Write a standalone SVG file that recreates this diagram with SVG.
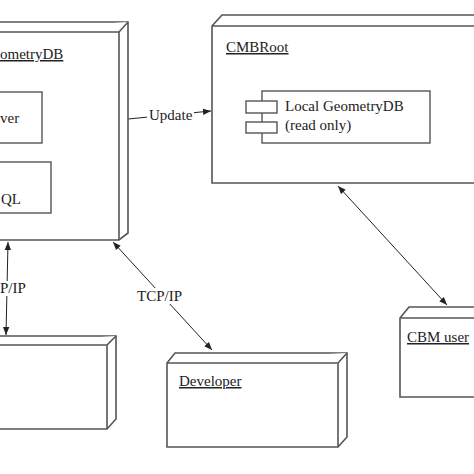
<svg xmlns="http://www.w3.org/2000/svg" width="474" height="474" viewBox="0 0 474 474">
<style>
.node{fill:#fff;stroke:#555;stroke-width:1.6;stroke-linejoin:miter}
.box{fill:#fff;stroke:#555;stroke-width:1.4}
.t{font-family:"Liberation Serif","Times New Roman",serif;font-size:15px;fill:#222}
.u{text-decoration:underline}
.c{fill:none;stroke:#222;stroke-width:1;marker-start:url(#a);marker-end:url(#a)}
.c1{fill:none;stroke:#222;stroke-width:1}
.lb{fill:#fff;stroke:none}
</style>
<defs>
<marker id="a" viewBox="0 0 10 10" refX="10" refY="5" markerWidth="8" markerHeight="8" markerUnits="userSpaceOnUse" orient="auto-start-reverse">
<path d="M0,1 L10,5 L0,9 Z" fill="#222"/>
</marker>
<marker id="e" viewBox="0 0 10 10" refX="10" refY="5" markerWidth="8" markerHeight="8" markerUnits="userSpaceOnUse" orient="auto">
<path d="M0,1 L10,5 L0,9 Z" fill="#222"/>
</marker>
</defs>
<rect width="474" height="474" fill="#fff"/>

<g id="connectors">
<line class="c1" x1="128" y1="119" x2="211" y2="111" marker-end="url(#e)"/>
<rect class="lb" x="147" y="108" width="47" height="16"/>
<text class="t" x="149" y="120">Update</text>
<line class="c" x1="8" y1="242" x2="6" y2="335"/>
<rect class="lb" x="0" y="281" width="31" height="15"/>
<text class="t" x="0" y="293">P/IP</text>
<line class="c" x1="113" y1="242" x2="212" y2="350"/>
<rect class="lb" x="135" y="288" width="52" height="16"/>
<text class="t" x="137" y="301">TCP/IP</text>
<line class="c" x1="338" y1="186" x2="447" y2="305"/>
</g>

<g id="geometrydb">
<path class="node" d="M-20,22 L128,22 L128,233 L119,240 L-20,240 Z"/>
<path class="node" d="M-20,32 L119,32 L128,22 M119,32 L119,240" fill="none"/>
<text class="t u" x="0" y="59">ometryDB</text>
<rect class="box" x="-20" y="92" width="62" height="51"/>
<text class="t" x="0" y="123">ver</text>
<rect class="box" x="-20" y="162" width="71" height="51"/>
<text class="t" x="1" y="204">QL</text>
</g>

<g id="cmbroot">
<path class="node" d="M212,26 L222,15 L480,15 L480,183 L212,183 Z"/>
<path class="node" d="M212,26 L480,26" fill="none"/>
<text class="t u" x="226" y="52">CMBRoot</text>
<g id="localdb">
<rect class="box" x="262" y="91" width="168" height="52"/>
<rect class="box" x="246" y="101" width="31" height="12"/>
<rect class="box" x="246" y="122" width="31" height="11"/>
<text class="t" x="285" y="111">Local GeometryDB</text>
<text class="t" x="285" y="130">(read only)</text>
</g>
</g>

<g id="leftbottom">
<path class="node" d="M-20,336 L116,336 L116,419 L107,429 L-20,429 Z"/>
<path class="node" d="M-20,345 L107,345 L116,336 M107,345 L107,429" fill="none"/>
</g>

<g id="developer">
<path class="node" d="M167,363 L175,353 L347,353 L347,437 L338,447 L167,447 Z"/>
<path class="node" d="M167,363 L338,363 L347,353 M338,363 L338,447" fill="none"/>
<text class="t u" x="179" y="386">Developer</text>
</g>

<g id="cbmuser">
<path class="node" d="M400,318 L409,307 L480,307 L480,397 L400,397 Z"/>
<path class="node" d="M400,318 L480,318" fill="none"/>
<text class="t u" x="407" y="342">CBM user</text>
</g>
</svg>
